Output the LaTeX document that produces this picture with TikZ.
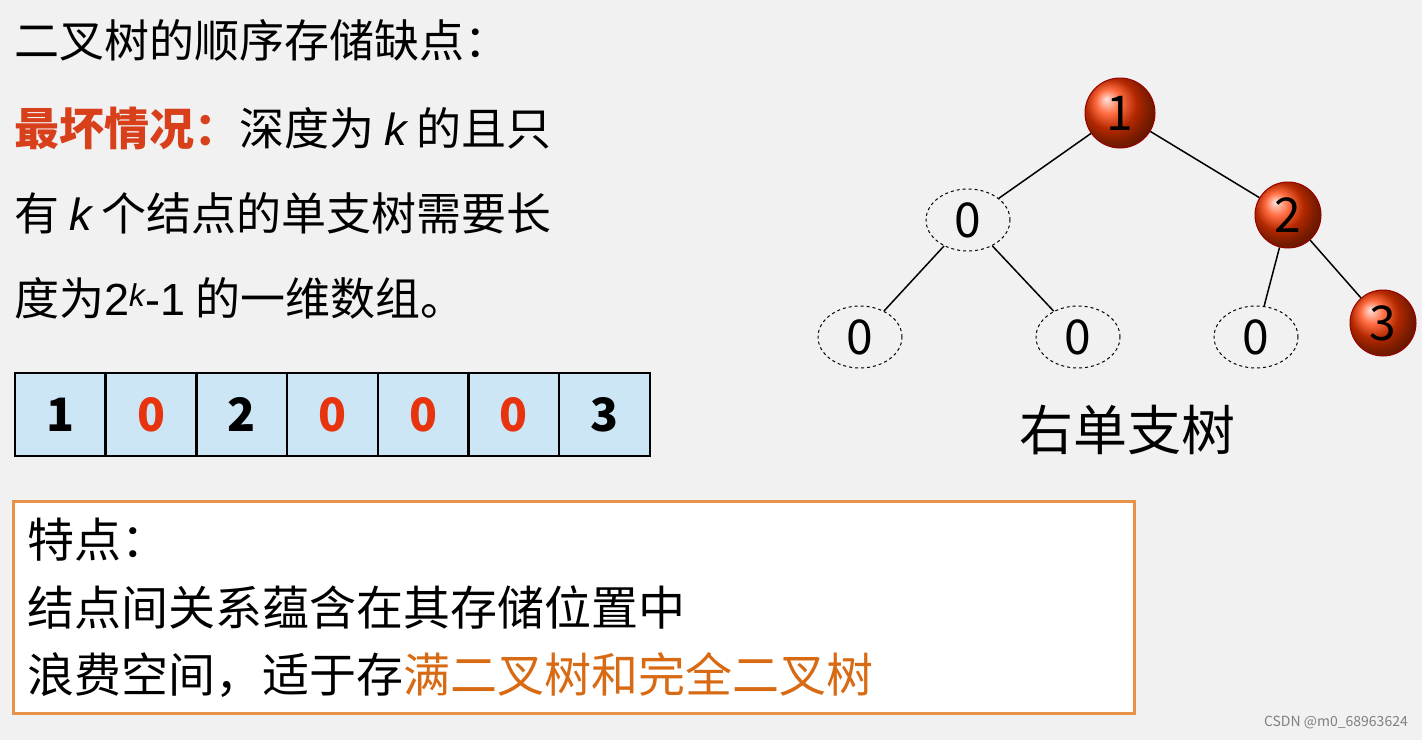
\documentclass[tikz,border=0pt]{standalone}
\usepackage{fontspec}
\setmainfont{Noto Sans CJK SC}
\newfontfamily\latf{Liberation Sans}
\begin{document}
\begin{tikzpicture}[x=1pt,y=-1pt,
  txt/.style={anchor=west,inner sep=0,font=\fontsize{45}{50}\selectfont},
  cell/.style={draw=black,line width=2.5pt,fill=cellblue,minimum width=90.7pt,minimum height=83pt,inner sep=0,font=\fontsize{46}{50}\selectfont\bfseries},
  ball/.style={circle,draw=red!60!black,line width=1pt,shading=ball,ball color=orange!45!red,minimum size=70pt,inner sep=0,font=\fontsize{48}{52}\selectfont},
  zero/.style={ellipse,draw,dashed,line width=1pt,minimum width=84pt,minimum height=62pt,inner sep=0,font=\fontsize{48}{52}\selectfont}]
\definecolor{bg}{HTML}{F1F1F1}
\definecolor{cellblue}{HTML}{CCE6F6}
\definecolor{hot}{HTML}{D8401C}
\definecolor{zred}{HTML}{E8340E}
\definecolor{obord}{HTML}{E8924A}
\definecolor{otxt}{HTML}{D86A14}
\usetikzlibrary{shapes.geometric}
\fill[bg] (0,0) rectangle (1422,740);
\useasboundingbox (0,0) rectangle (1422,740);
\node[txt] (t1) at (14,40) {二叉树的顺序存储缺点：};
\node[txt] (t2) at (14,128) {{\color{hot}\bfseries 最坏情况：}深度为 {\latf\itshape k} 的且只};
\node[txt] (t3) at (14,213) {有 {\latf\itshape k} 个结点的单支树需要长};
\node[txt] (t4) at (14,298) {度为{\latf 2\textsuperscript{\itshape k}-1} 的一维数组。};
\foreach \v/\c [count=\i] in {1/black,0/zred,2/black,0/zred,0/zred,0/zred,3/black}
  \node[cell,text=\c] (c\i) at (15+45.35+90.7*\i-90.7,414.5) {\v};
\node[ball] (n1) at (1120,113) {1};
\node[zero] (n2) at (968,220) {0};
\node[ball,minimum size=66pt] (n3) at (1288,215) {2};
\node[zero] (n4) at (860,337) {0};
\node[zero] (n5) at (1078,337) {0};
\node[zero] (n6) at (1256,337) {0};
\node[ball,minimum size=66pt] (n7) at (1383,323) {3};
\draw[line width=1.5pt] (n1)--(n2) (n1)--(n3) (n2)--(n4) (n2)--(n5) (n3)--(n6) (n3)--(n7);
\node[inner sep=0,font=\fontsize{54}{58}\selectfont] (lab) at (1127,430) {右单支树};
\node[draw=obord,line width=2.5pt,fill=white,minimum width=1121pt,minimum height=212pt,anchor=north west] (box) at (12,500) {};
\node[txt,font=\fontsize{47}{52}\selectfont] (b1) at (27,540) {特点：};
\node[txt,font=\fontsize{47}{52}\selectfont] (b2) at (27,607) {结点间关系蕴含在其存储位置中};
\node[txt,font=\fontsize{47}{52}\selectfont] (b3) at (27,675) {浪费空间，适于存{\color{otxt}满二叉树和完全二叉树}};
\node[anchor=east,inner sep=0,text=gray,font=\fontsize{14}{16}\selectfont] (wm) at (1408,722) {CSDN @m0\_68963624};
\end{tikzpicture}
\end{document}
